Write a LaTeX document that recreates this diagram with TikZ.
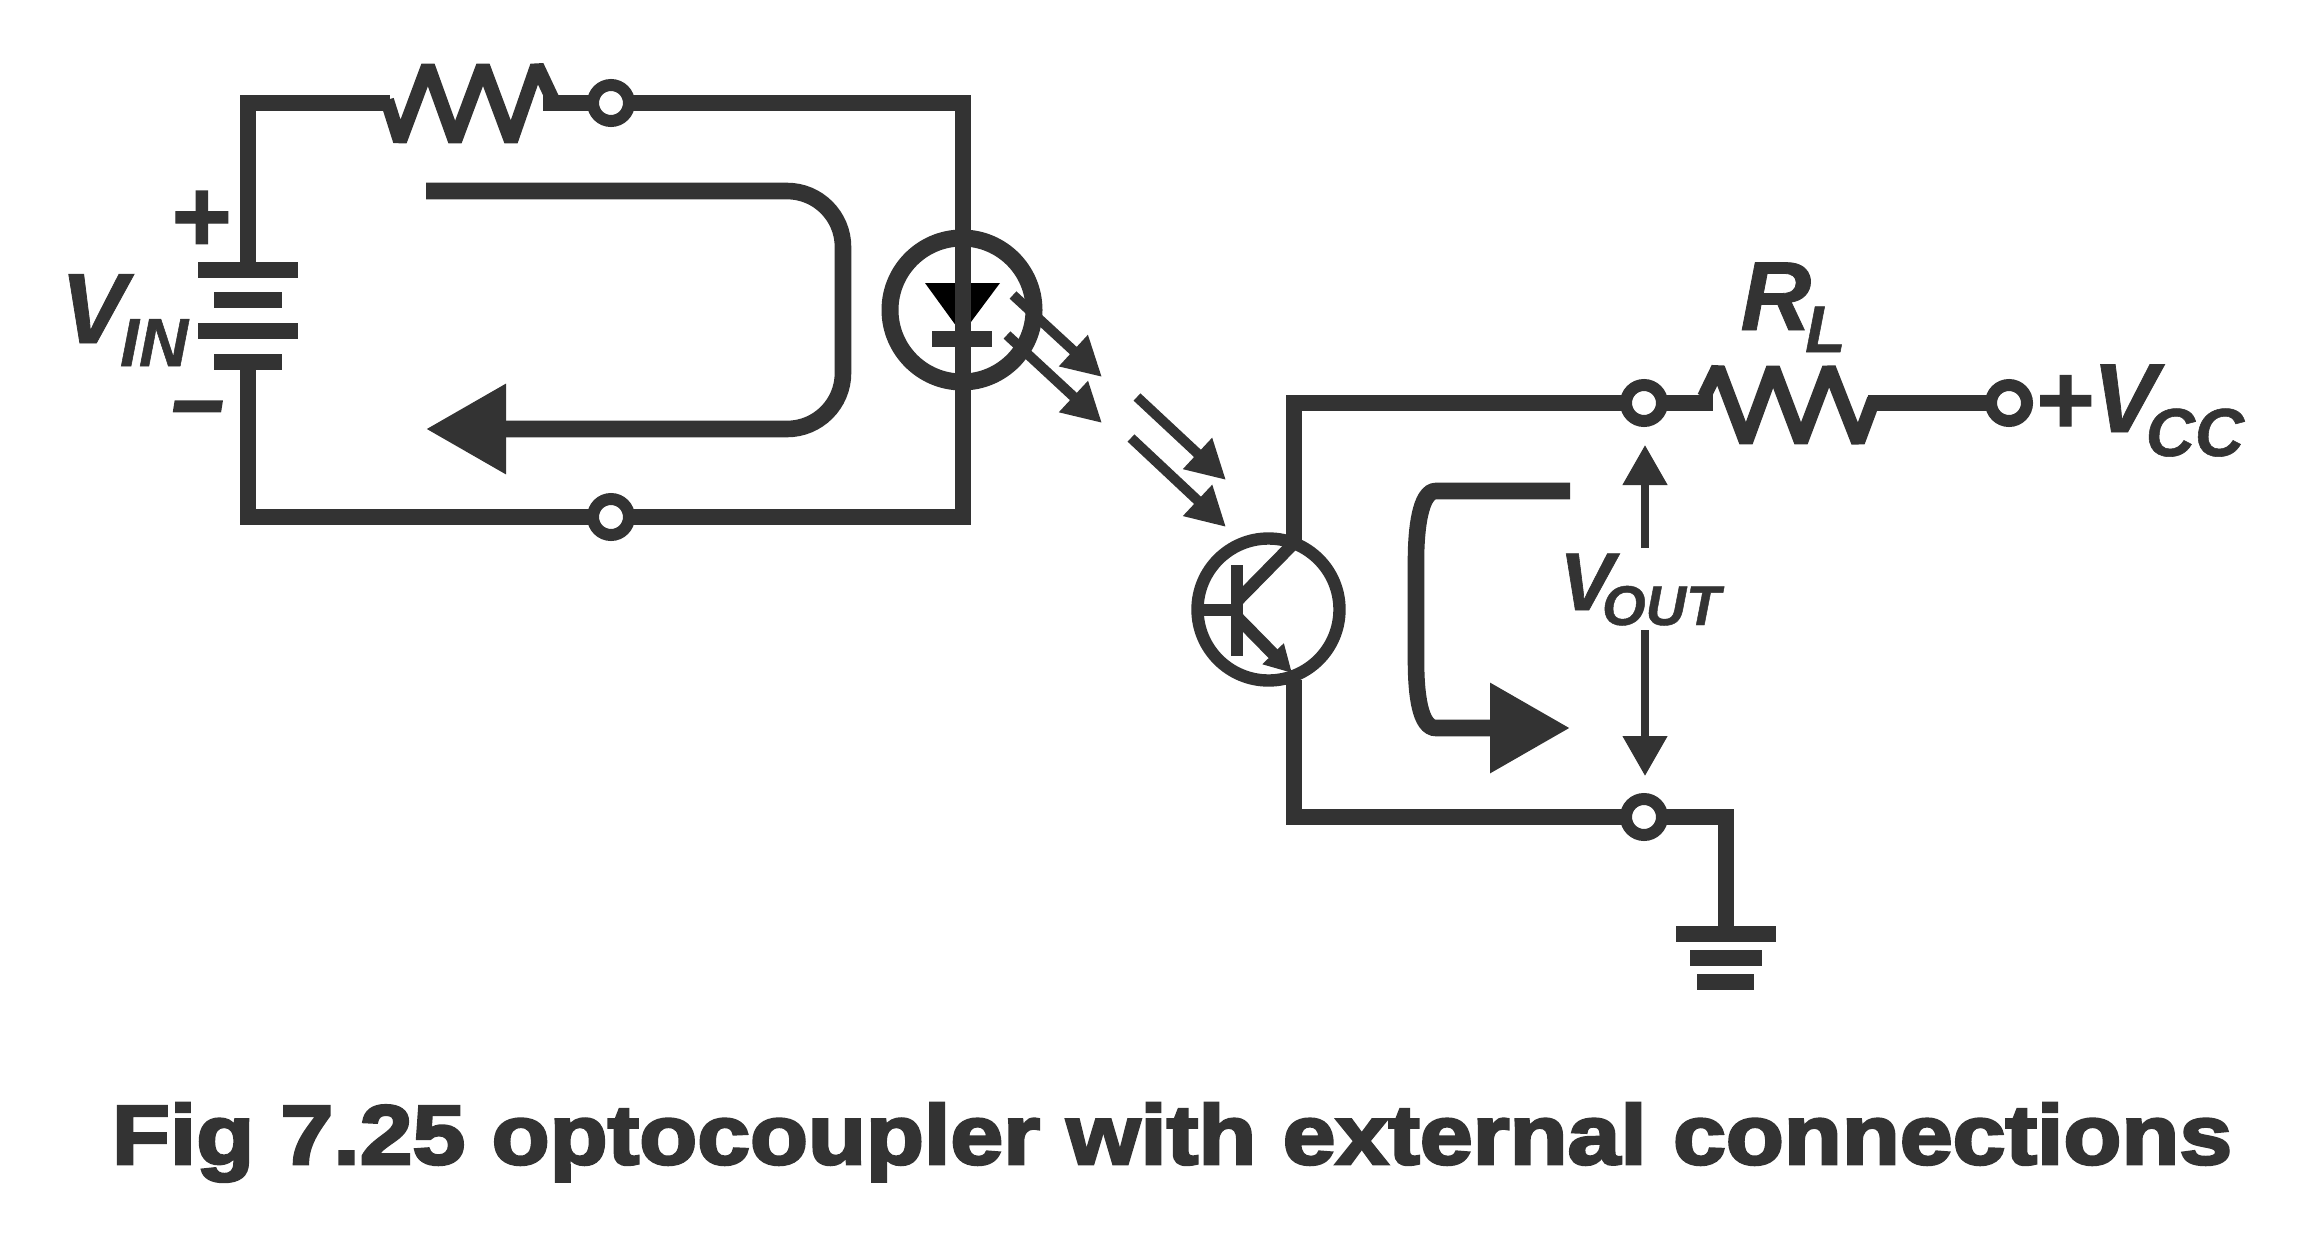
\documentclass[tikz,border=0pt]{standalone}
\usepackage{fontspec}
\usetikzlibrary{arrows.meta}
\setmainfont{Liberation Sans}
\newfontfamily\titlefont[FakeStretch=1.13,FakeBold=3.4]{Liberation Sans Bold}
\newfontfamily\labfont[FakeBold=0.8]{Liberation Sans Bold Italic}
\newfontfamily\signfont[FakeBold=1]{Liberation Sans Bold}
\newfontfamily\minusfont[FakeBold=3]{Liberation Sans Bold Italic}
\definecolor{ink}{HTML}{333333}
\newcommand{\labsub}[6]{{\labfont\fontsize{#1}{#1}\selectfont #2\kern#6pt\raisebox{-#5pt}{\fontsize{#3}{#3}\selectfont #4}}}
\tikzset{
  wire/.style={draw=ink,line width=8.3pt,line join=miter,line cap=butt},
  zig/.style={draw=ink,line width=7pt,line join=bevel,line cap=butt},
  plate/.style={draw=ink,line width=8pt,line cap=butt},
  terminal/.style={circle,draw=ink,fill=white,line width=6pt,minimum size=18pt,inner sep=0pt},
  ring/.style={circle,draw=ink,inner sep=0pt},
  bigarrow/.style={draw=ink,line width=8.3pt,line cap=butt,-{Triangle[length=40pt,width=43pt,color=ink]}},
  lightarrow/.style={draw=ink,line width=5pt,line cap=butt,-{Triangle[length=19.5pt,width=20pt,color=ink]}},
  volt/.style={draw=ink,line width=4pt,line cap=butt,-{Triangle[length=20pt,width=21.5pt,color=ink]}},
  labeltext/.style={text=ink,inner sep=0pt,anchor=base west},
}
\begin{document}
\begin{tikzpicture}[x=.5pt,y=-.5pt]
\useasboundingbox (0,0) rectangle (2298,1248);
% named points
\coordinate (batTop) at (248,270);
\coordinate (batBot) at (248,362);
\coordinate (r1a) at (390,103);
\coordinate (r1b) at (543,103);
\coordinate (colTop) at (1296,541);
\coordinate (emBot) at (1294,680);
\coordinate (r2a) at (1713,403);
\coordinate (r2b) at (1868,403);
\coordinate (gndTop) at (1726,930);
% left loop
\draw[wire] (r1a) -- (248,103) -- (batTop);
\draw[wire] (batBot) -- (248,517) -- (963,517) -- (963,103) -- (r1b);
% resistor 1
\draw[zig] (387,100) -- (400,141) -- (428,66) -- (455,141) -- (483,66) -- (511,141) -- (537,66) -- (553,100);
% battery
\draw[plate] (198,270) -- (298,270);
\draw[plate] (214,300) -- (282,300);
\draw[plate] (198,331) -- (298,331);
\draw[plate] (214,362) -- (282,362);
% terminals left
\node[terminal] (t1) at (611,103) {};
\node[terminal] (t2) at (611,517) {};
% signs and V_IN
\node[labeltext,font=\signfont\fontsize{52}{52}\selectfont] (plus1) at (171,252) {+};
\node[labeltext] (minus1) at (172,431) {\minusfont\fontsize{46}{46}\selectfont –};
\node[labeltext] (vin) at (60,343) {\labsub{50}{V}{34}{IN}{11.5}{-3.5}};
% loop arrow
\draw[bigarrow] (426,191) -- (787,191) arc[start angle=-90,end angle=0,radius=56] -- (843,373)
   arc[start angle=0,end angle=90,radius=56] -- (426,429);
% LED
\fill[black] (925,283) -- (1000,283) -- (962,334) -- cycle;
\draw[wire] (963,230) -- (963,390);
\draw[plate] (932,339) -- (992,339);
\node[ring,line width=8.5pt,minimum size=72pt] (led) at (962,310) {};
\draw[lightarrow] (1013,295) -- (1102,377);
\draw[lightarrow] (1007,335) -- (1102,423);
% phototransistor
\draw[lightarrow] (1137,397) -- (1226,480);
\draw[lightarrow] (1131,438) -- (1226,527);
\node[ring,line width=6.2pt,minimum size=71pt] (q) at (1268.5,609.5) {};
\draw[draw=ink,line width=6.2pt] (1237,565) -- (1237,656);
\draw[draw=ink,line width=6pt] (1197,610) -- (1237,610);
\draw[draw=ink,line width=6.2pt] (1238,600) -- (colTop);
\draw[draw=ink,line width=6.2pt,-{Triangle[length=13.5pt,width=14pt,color=ink]}] (1238,618) -- (1292,673);
\draw[wire] (1294,540) -- (1294,403) -- (r2a);
\draw[wire] (emBot) -- (1294,817) -- (1726,817) -- (gndTop);
% load resistor and supply
\draw[zig] (1704,397) -- (1718,368) -- (1746,442) -- (1773,368) -- (1801,442) -- (1829,368) -- (1858,442) -- (1874,399);
\draw[wire] (r2b) -- (2009,403);
\node[terminal] (t3) at (1644,403) {};
\node[terminal] (t4) at (1644,817) {};
\node[terminal] (t5) at (2009,403) {};
% Ground
\draw[plate] (1676,934) -- (1776,934);
\draw[plate] (1690,958) -- (1762,958);
\draw[plate] (1697,982) -- (1754,982);
% output loop arrow
\draw[bigarrow] (1570,491) -- (1436,491) .. controls (1420,491) and (1416,530) .. (1416,560) -- (1416,660)
   .. controls (1416,695) and (1420,728) .. (1436,728) -- (1570,728);
% V out arrows
\draw[volt] (1645,548) -- (1645,445);
\draw[volt] (1645,630) -- (1645,776);
% labels
\node[labeltext] (vout) at (1559,610) {\labsub{41}{V}{28}{OUT}{7.5}{-6}};
\node[labeltext] (rl) at (1740,330) {\labsub{49}{R}{33}{L}{11}{-3}};
\node[labeltext,font=\signfont\fontsize{50}{50}\selectfont] (plus2) at (2036,434) {+};
\node[labeltext] (vcc) at (2092,432) {\labsub{49}{V}{34}{CC}{12}{-6}};
% caption
\node[text=ink,inner sep=0pt,anchor=base] (cap) at (1172,1164) {\titlefont\fontsize{42}{42}\selectfont Fig 7.25 optocoupler with external connections};
\end{tikzpicture}
\end{document}
